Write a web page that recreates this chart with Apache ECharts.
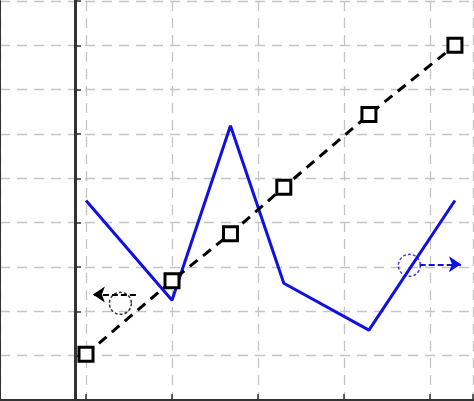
<!DOCTYPE html>
<html>
<head>
<meta charset="utf-8">
<script src="https://cdn.jsdelivr.net/npm/echarts@6/dist/echarts.min.js"></script>
<style>
    html, body { margin: 0; padding: 0; background: #fff; }
    #chart { width: 474px; height: 401px; }
</style>
</head>
<body>
<div id="chart"></div>
<script>
// 数据
const xValues = [1.0, 2.0, 2.68, 3.3, 4.29, 5.29];
const leftValues = [1.03, 2.69, 3.75, 4.8, 6.44, 8.0];
const rightValues = [2.0, 1.0, 2.75, 1.17, 0.7, 2.0];
// 注释: 圆圈和箭头
const leftCircle = [1.4, 2.18];
const leftArrow = [[1.58, 2.38], [1.08, 2.38]];
const rightCircle = [4.76, 1.35];
const rightArrow = [[4.88, 1.36], [5.36, 1.36]];

const axisLine = { lineStyle: { color: '#333', width: 2 } };
const tick = { inside: true, length: 6, lineStyle: { color: '#333', width: 1.5 } };
const split = { show: true, lineStyle: { color: '#c4c4c4', type: [10, 7], width: 1.3 } };

const chart = echarts.init(document.getElementById('chart'));
const option = {
    animation: false,
    // x 轴从 0 开始, 绘图区向左伸出画布, 左轴线用 offset 拉回
    grid: { left: -73, right: 1, top: 1, bottom: 1 },
    xAxis: [{
        type: 'value', min: 0, max: 5.5, interval: 1,
        axisLine: axisLine, axisTick: tick, axisLabel: { show: false }, splitLine: split
    }, {
        type: 'value', position: 'top', min: 0, max: 5.5, interval: 1,
        axisLine: axisLine, axisTick: tick, axisLabel: { show: false }, splitLine: { show: false }
    }],
    yAxis: [{
        type: 'value', min: 0, max: 9, interval: 1, offset: -75,
        axisLine: { lineStyle: { color: '#333', width: 3 } }, axisTick: tick, axisLabel: { show: false }, splitLine: split
    }, {
        type: 'value', position: 'right', min: 0, max: 4, interval: 1,
        axisLine: axisLine, axisTick: tick, axisLabel: { show: false }, splitLine: { show: false }
    }],
    series: [{
        type: 'line',
        yAxisIndex: 1,
        data: xValues.map((x, i) => [x, rightValues[i]]),
        symbol: 'none',
        lineStyle: { color: '#1010e0', width: 3 },
        z: 3
    }, {
        type: 'line',
        yAxisIndex: 0,
        data: xValues.map((x, i) => [x, leftValues[i]]),
        symbol: 'rect',
        symbolSize: 14,
        lineStyle: { color: '#000', width: 3, type: [10, 7] },
        itemStyle: { color: '#fff', borderColor: '#000', borderWidth: 3 },
        z: 4
    }, {
        type: 'scatter',
        yAxisIndex: 0,
        data: [leftCircle],
        symbol: 'circle',
        symbolSize: 22,
        itemStyle: { color: 'rgba(0,0,0,0)', borderColor: '#000', borderWidth: 1.5, borderType: [3, 2] },
        markLine: {
            silent: true,
            symbol: ['none', 'arrow'],
            symbolSize: 12,
            label: { show: false },
            lineStyle: { color: '#000', width: 2.2, type: [6, 3] },
            data: [[{ coord: leftArrow[0] }, { coord: leftArrow[1] }]]
        },
        z: 5
    }, {
        type: 'scatter',
        yAxisIndex: 1,
        data: [rightCircle],
        symbol: 'circle',
        symbolSize: 22,
        itemStyle: { color: 'rgba(0,0,0,0)', borderColor: '#1010e0', borderWidth: 1.5, borderType: [3, 2] },
        markLine: {
            silent: true,
            symbol: ['none', 'arrow'],
            symbolSize: 12,
            label: { show: false },
            lineStyle: { color: '#1010e0', width: 2.2, type: [6, 3] },
            data: [[{ coord: rightArrow[0] }, { coord: rightArrow[1] }]]
        },
        z: 5
    }]
};
chart.setOption(option);
</script>
</body>
</html>
